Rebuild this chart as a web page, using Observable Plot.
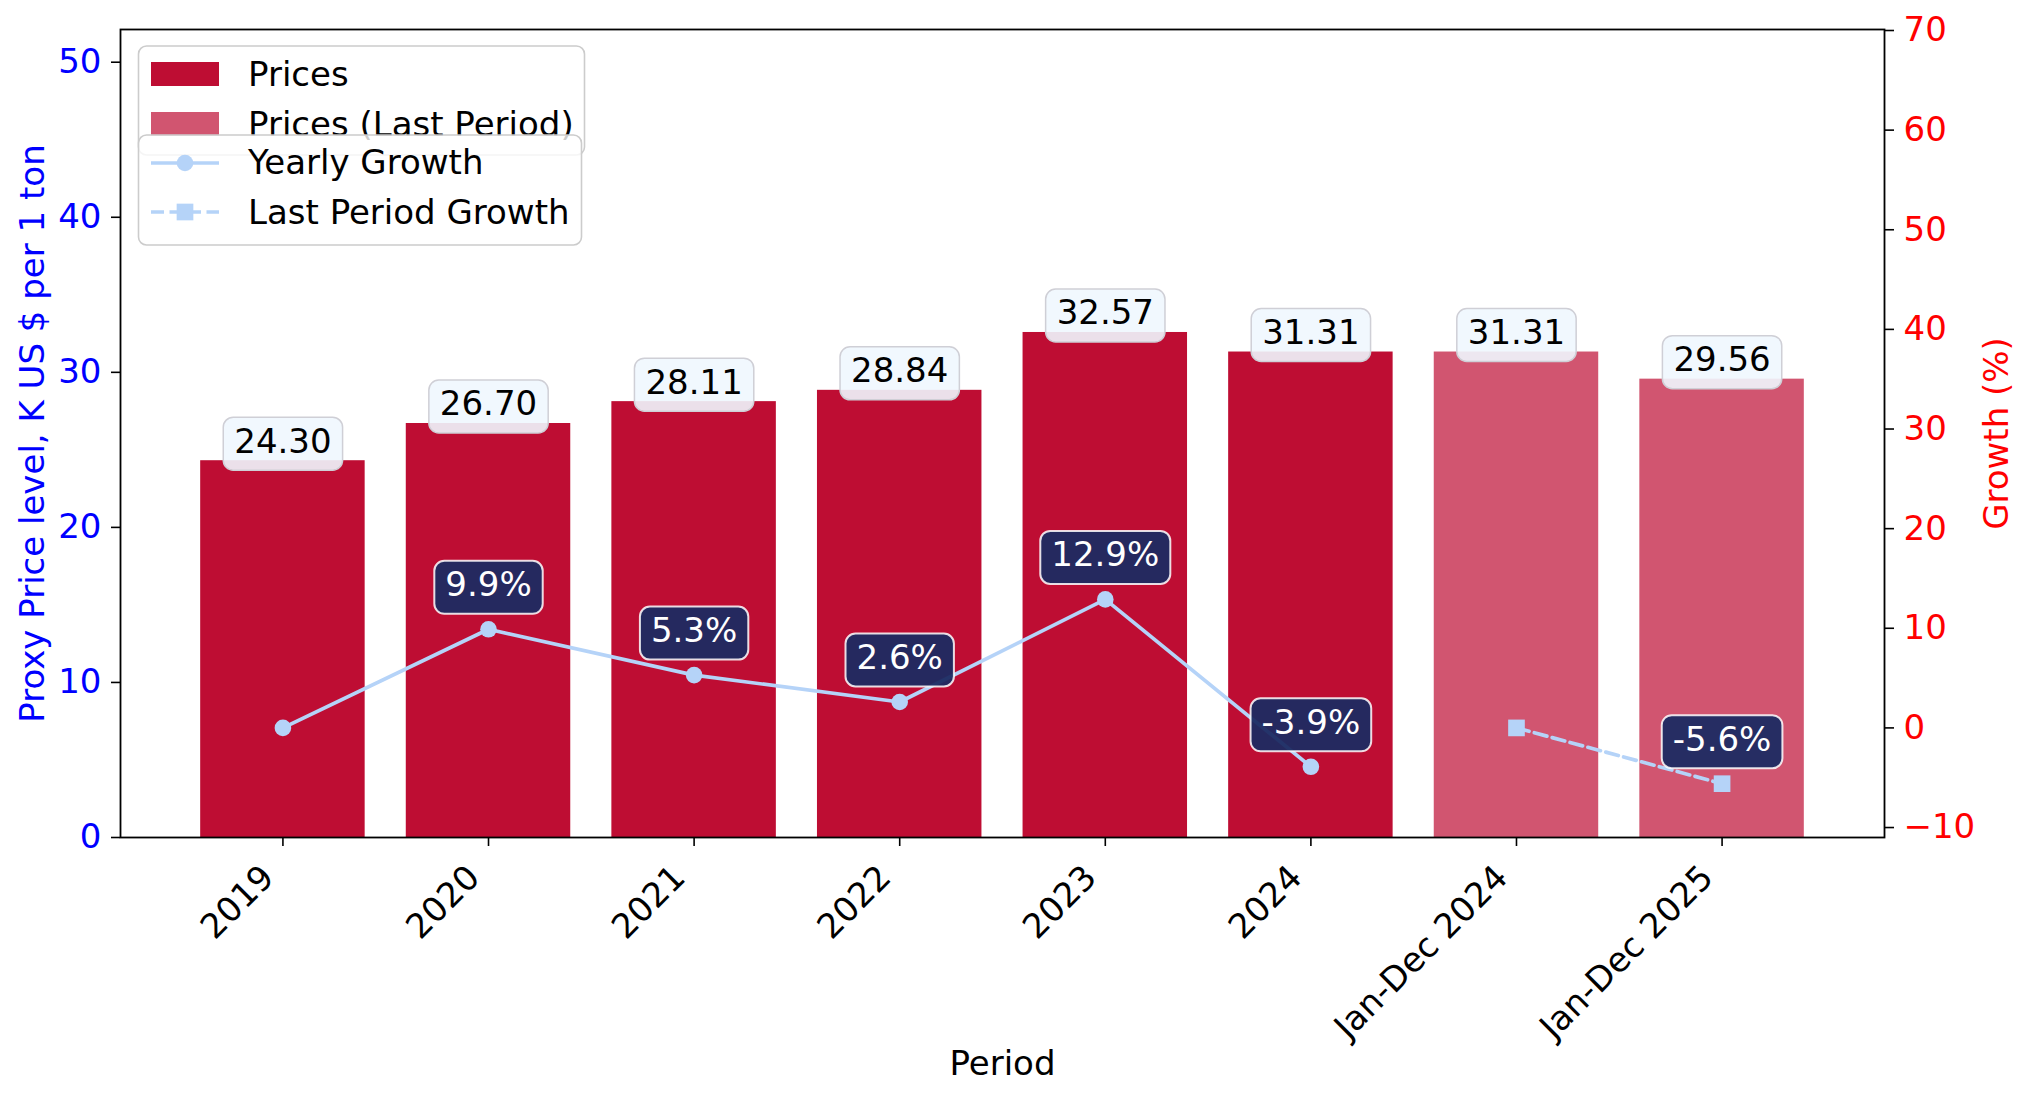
<!DOCTYPE html>
<html>
<head>
<meta charset="utf-8">
<script src="https://cdn.jsdelivr.net/npm/d3@7"></script>
<script src="https://cdn.jsdelivr.net/npm/@observablehq/plot@0.6"></script>
<style>
  html, body { margin: 0; padding: 0; background: #fff; }
  #wrap { position: relative; width: 2032px; height: 1099px; }
  #wrap > svg { position: absolute; left: 0; top: 0; }
</style>
</head>
<body>
<div id="wrap"></div>
<script>
// ---- data ----
const periods = ["2019", "2020", "2021", "2022", "2023", "2024", "Jan-Dec 2024", "Jan-Dec 2025"];
const prices = [24.30, 26.70, 28.11, 28.84, 32.57, 31.31, 31.31, 29.56];
const isLastPeriod = [false, false, false, false, false, false, true, true];
const growth = [0, 9.9, 5.3, 2.6, 12.9, -3.9, 0, -5.6];
const growthLabels = [null, "9.9%", "5.3%", "2.6%", "12.9%", "-3.9%", null, "-5.6%"];
const priceTicks = [0, 10, 20, 30, 40, 50];
const growthTicks = [-10, 0, 10, 20, 30, 40, 50, 60, 70];
const yLabelLeft = "Proxy Price level, K US $ per 1 ton";
const yLabelRight = "Growth (%)";
const xLabel = "Period";
const legendBars = ["Prices", "Prices (Last Period)"];
const legendLines = ["Yearly Growth", "Last Period Growth"];

// ---- style ----
const W = 2032, H = 1099;
const mL = 120, mR = 148, mT = 29, mB = 262;
const FS = 34;
const FONT = "DejaVu Sans, sans-serif";
const barColor = "#BE0D33";
const lineColor = "#B5D3F8";
const navy = "#1C2B62";
const LW = 3.7;

const rows = periods.map((p, i) => ({
  period: p, price: prices[i], last: isLastPeriod[i], growth: growth[i], glab: growthLabels[i]
}));
const yearly = rows.filter(d => !d.last);
const lastP = rows.filter(d => d.last);

const xOpts = {type: "band", domain: periods, paddingInner: 0.2, paddingOuter: 0.39, align: 0.5, round: false};
const common = {
  width: W, height: H, marginLeft: mL, marginRight: mR, marginTop: mT, marginBottom: mB,
  style: {fontFamily: FONT, fontSize: FS + "px", background: "transparent", overflow: "visible", maxWidth: "none"}
};

const minus = d => d < 0 ? "\u2212" + Math.abs(d) : String(d);

const p1 = Plot.plot({
  ...common,
  x: {...xOpts},
  y: {domain: [0, 52.11]},
  marks: [
    Plot.barY(rows, {x: "period", y: "price", fill: barColor, fillOpacity: d => d.last ? 0.7 : 1}),
    Plot.text(rows, {
      x: "period", y: "price", text: d => d.price.toFixed(2), dy: -8, lineAnchor: "bottom",
      fontSize: FS, fill: "black", className: "plab"
    }),
    Plot.axisY(priceTicks, {anchor: "left", tickSize: 9, tickPadding: 10, fontSize: FS, stroke: "black", fill: "blue", strokeWidth: 1.6, label: null}),
    Plot.axisX({tickSize: 9, tickFormat: () => "", stroke: "black", strokeWidth: 1.6, label: null}),
    Plot.text(periods, {
      x: d => d, frameAnchor: "bottom", rotate: -45, textAnchor: "end", lineAnchor: "bottom",
      dx: -7, dy: 42, fontSize: FS, fill: "black"
    }),
    Plot.text([yLabelLeft], {frameAnchor: "left", rotate: -90, textAnchor: "middle", lineAnchor: "bottom", dx: -77, fontSize: FS, fill: "blue"}),
    Plot.text([xLabel], {frameAnchor: "bottom", textAnchor: "middle", lineAnchor: "bottom", dy: 237, fontSize: FS, fill: "black"}),
    Plot.frame({stroke: "black", strokeWidth: 1.8})
  ]
});

const p2 = Plot.plot({
  ...common,
  x: {...xOpts, axis: null},
  y: {domain: [-11.0, 70.1], axis: null},
  marks: [
    Plot.line(yearly, {x: "period", y: "growth", stroke: lineColor, strokeWidth: LW}),
    Plot.dot(yearly, {x: "period", y: "growth", r: 8.3, fill: lineColor, stroke: null}),
    Plot.line(lastP, {x: "period", y: "growth", stroke: lineColor, strokeWidth: LW, strokeDasharray: "13,5.5"}),
    Plot.dot(lastP, {x: "period", y: "growth", r: 9.4, symbol: "square", fill: lineColor, stroke: null}),
    Plot.text(rows.filter(d => d.glab), {
      x: "period", y: "growth", text: "glab", dy: -33, lineAnchor: "bottom",
      fontSize: FS, fill: "white", className: "glab"
    }),
    Plot.axisY(growthTicks, {anchor: "right", tickSize: 9, tickPadding: 10, fontSize: FS, stroke: "black", fill: "red", strokeWidth: 1.6, tickFormat: minus, label: null}),
    Plot.text([yLabelRight], {frameAnchor: "right", rotate: -90, textAnchor: "middle", lineAnchor: "bottom", dx: 123, fontSize: FS, fill: "red"})
  ]
});

const wrap = document.getElementById("wrap");
wrap.appendChild(p1);
wrap.appendChild(p2);

// label boxes behind text
function boxes(svg, cls, attrs) {
  let texts = svg.querySelectorAll("g." + cls + " text");
  texts.forEach(t => {
    const bb = t.getBBox();
    const r = document.createElementNS("http://www.w3.org/2000/svg", "rect");
    r.setAttribute("x", bb.x - 11);
    r.setAttribute("y", -35.5);
    r.setAttribute("width", bb.width + 22);
    r.setAttribute("height", 53);
    r.setAttribute("rx", 10);
    const tr = t.getAttribute("transform");
    if (tr) r.setAttribute("transform", tr);
    for (const k in attrs) r.setAttribute(k, attrs[k]);
    t.parentNode.insertBefore(r, t);
  });
}
boxes(p1, "plab", {fill: "#F0F7FE", "fill-opacity": 0.9, stroke: "#CFCFD6", "stroke-width": 1.5});
boxes(p2, "glab", {fill: navy, "fill-opacity": 0.95, stroke: "#FFFFFF", "stroke-opacity": 0.85, "stroke-width": 2});

// legend overlay
const NS = "http://www.w3.org/2000/svg";
const leg = document.createElementNS(NS, "svg");
leg.setAttribute("width", W); leg.setAttribute("height", H);
leg.style.pointerEvents = "none";
leg.setAttribute("font-family", FONT);
leg.setAttribute("font-size", FS);
function el(name, attrs, text) {
  const e = document.createElementNS(NS, name);
  for (const k in attrs) e.setAttribute(k, attrs[k]);
  if (text != null) e.textContent = text;
  leg.appendChild(e);
  return e;
}
// box 1
el("rect", {x: 138.5, y: 46, width: 446, height: 109, rx: 8, fill: "white", "fill-opacity": 0.8, stroke: "#CCCCCC", "stroke-width": 1.6});
el("rect", {x: 151, y: 62, width: 68, height: 24, fill: barColor});
el("text", {x: 248, y: 86, fill: "black"}, legendBars[0]);
el("rect", {x: 151, y: 112, width: 68, height: 24, fill: barColor, "fill-opacity": 0.7});
el("text", {x: 248, y: 136, fill: "black"}, legendBars[1]);
// box 2
el("rect", {x: 138.5, y: 135, width: 443, height: 110, rx: 8, fill: "white", "fill-opacity": 0.8, stroke: "#CCCCCC", "stroke-width": 1.6});
el("line", {x1: 151, x2: 219, y1: 163, y2: 163, stroke: lineColor, "stroke-width": LW});
el("circle", {cx: 185, cy: 163, r: 8.3, fill: lineColor});
el("text", {x: 248, y: 174, fill: "black"}, legendLines[0]);
el("line", {x1: 151, x2: 219, y1: 212, y2: 212, stroke: lineColor, "stroke-width": LW, "stroke-dasharray": "13,5.5"});
el("rect", {x: 185 - 8.35, y: 212 - 8.35, width: 16.7, height: 16.7, fill: lineColor});
el("text", {x: 248, y: 224, fill: "black"}, legendLines[1]);
wrap.appendChild(leg);
</script>
</body>
</html>
